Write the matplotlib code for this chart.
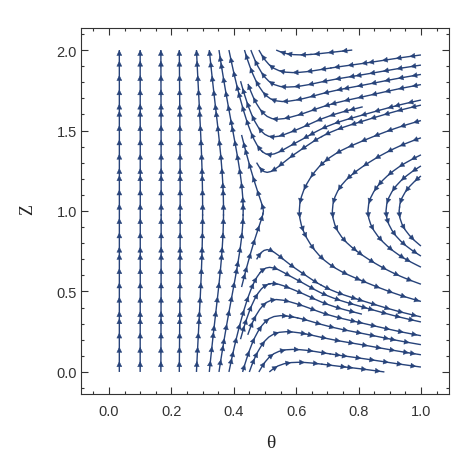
import numpy as np
import matplotlib
matplotlib.use("Agg")
import matplotlib.pyplot as plt
from matplotlib.ticker import MultipleLocator

# ---- vector field (saddle at theta=0.5, Z=1) ----
theta_saddle = 0.5
z_saddle = 1.0
nullcline_bend = 0.12
# horizontal speed factor g(theta) at a few theta values (estimated from the curves)
g_theta = [0.0, 0.15, 0.23, 0.29, 0.345, 0.39, 0.45, 0.5, 0.55, 0.6, 0.66, 0.7, 0.77, 0.86, 0.91, 0.965, 1.0]
g_value = [1e-4, 5e-4, 0.002, 0.011, 0.02, 0.025, 0.03, 0.042, 0.09, 0.18, 0.25, 0.4, 0.74, 0.93, 1.09, 1.4, 1.5]

theta_values = np.linspace(0.0, 1.0, 201)
z_values = np.linspace(0.0, 2.0, 401)

# ---- streamline seeds ----
seed_theta_left = [0.033, 0.10, 0.167, 0.228, 0.30, 0.367, 0.43, 0.495]   # crossing Z = 1
seed_theta_right = [0.61, 0.716, 0.83, 0.888, 0.93]                       # vertices at Z = 1
seed_z_top_min = [1.24, 1.35, 1.46, 1.57, 1.68, 1.77, 1.86, 1.97]          # lowest point of upper curves
seed_z_bottom_max = [0.76, 0.65, 0.55, 0.45, 0.35, 0.25, 0.14, 0.06]       # highest point of lower curves

x_ticks = [0.0, 0.2, 0.4, 0.6, 0.8, 1.0]
y_ticks = [0.0, 0.5, 1.0, 1.5, 2.0]


def nullcline(z):
    return theta_saddle + nullcline_bend * (np.asarray(z) - z_saddle) ** 2


T, ZZ = np.meshgrid(theta_values, z_values)
G = np.exp(np.interp(T, g_theta, np.log(g_value)))
U = G * (z_saddle - ZZ)
V = nullcline(ZZ) - T

seeds = [(t, z_saddle) for t in seed_theta_left]
seeds += [(t, z_saddle) for t in seed_theta_right]
for zt, zb in zip(seed_z_top_min, seed_z_bottom_max):
    seeds.append((float(nullcline(zt)), zt))
    seeds.append((float(nullcline(zb)), zb))

W, H = 474, 464
L, R, TOP, B = 81, 449, 29, 395
line_color = "#27437a"
XLIM = (-0.09, 1.09)
YLIM = (-0.137, 2.137)

fig = plt.figure(figsize=(W / 100, H / 100), dpi=100)
ax = fig.add_axes([L / W, 1 - B / H, (R - L) / W, (B - TOP) / H])
ax.set_xlim(*XLIM)
ax.set_ylim(*YLIM)

res = ax.streamplot(theta_values, z_values, U, V, start_points=seeds,
                    integration_direction="both", broken_streamlines=True,
                    density=1.5, color=line_color, linewidth=1.0,
                    arrowstyle="-", arrowsize=0.1, minlength=0.05)

# arrow heads spaced evenly along every streamline
spacing_px = 13.0
for seg in res.lines.get_segments():
    pts = ax.transData.transform(seg)
    d = np.hypot(np.diff(pts[:, 0]), np.diff(pts[:, 1]))
    s = np.concatenate([[0], np.cumsum(d)])
    if s[-1] < spacing_px:
        continue
    for target in np.arange(spacing_px * 0.6, s[-1] - 2, spacing_px):
        i = np.searchsorted(s, target)
        i = min(max(i, 1), len(seg) - 1)
        ax.annotate("", xy=seg[i], xytext=seg[i - 1],
                    arrowprops=dict(arrowstyle="-|>,head_length=0.6,head_width=0.3",
                                    mutation_scale=6, color=line_color, lw=0.3,
                                    shrinkA=0, shrinkB=0))

ax.set_xlim(*XLIM)
ax.set_ylim(*YLIM)
ax.set_xticks(x_ticks)
ax.set_yticks(y_ticks)
ax.set_xticklabels([f"{v:.1f}" for v in x_ticks])
ax.set_yticklabels([f"{v:.1f}" for v in y_ticks])
ax.xaxis.set_minor_locator(MultipleLocator(0.05))
ax.yaxis.set_minor_locator(MultipleLocator(0.1))
ax.tick_params(which="both", direction="in", top=True, right=True,
               colors="#333333", width=0.8, labelsize=10.5, labelcolor="#333333")
ax.tick_params(which="major", length=5)
ax.tick_params(which="minor", length=2.5)
ax.tick_params(axis="x", which="major", pad=7)
ax.tick_params(axis="y", which="major", pad=3)
for lab in ax.get_xticklabels() + ax.get_yticklabels():
    lab.set_fontfamily("Liberation Sans")
for sp in ax.spines.values():
    sp.set_color("#333333")
    sp.set_linewidth(0.8)

ax.set_xlabel("θ", fontfamily="Liberation Serif", fontsize=14, color="#222222")
ax.set_ylabel("Z", fontfamily="Liberation Serif", fontsize=13, color="#222222")
ax.xaxis.set_label_coords((271 - L) / (R - L), -(435 - B) / (B - TOP))
ax.yaxis.set_label_coords(-(L - 36) / (R - L), (B - 210) / (B - TOP))

fig.savefig("out.png", dpi=100)
